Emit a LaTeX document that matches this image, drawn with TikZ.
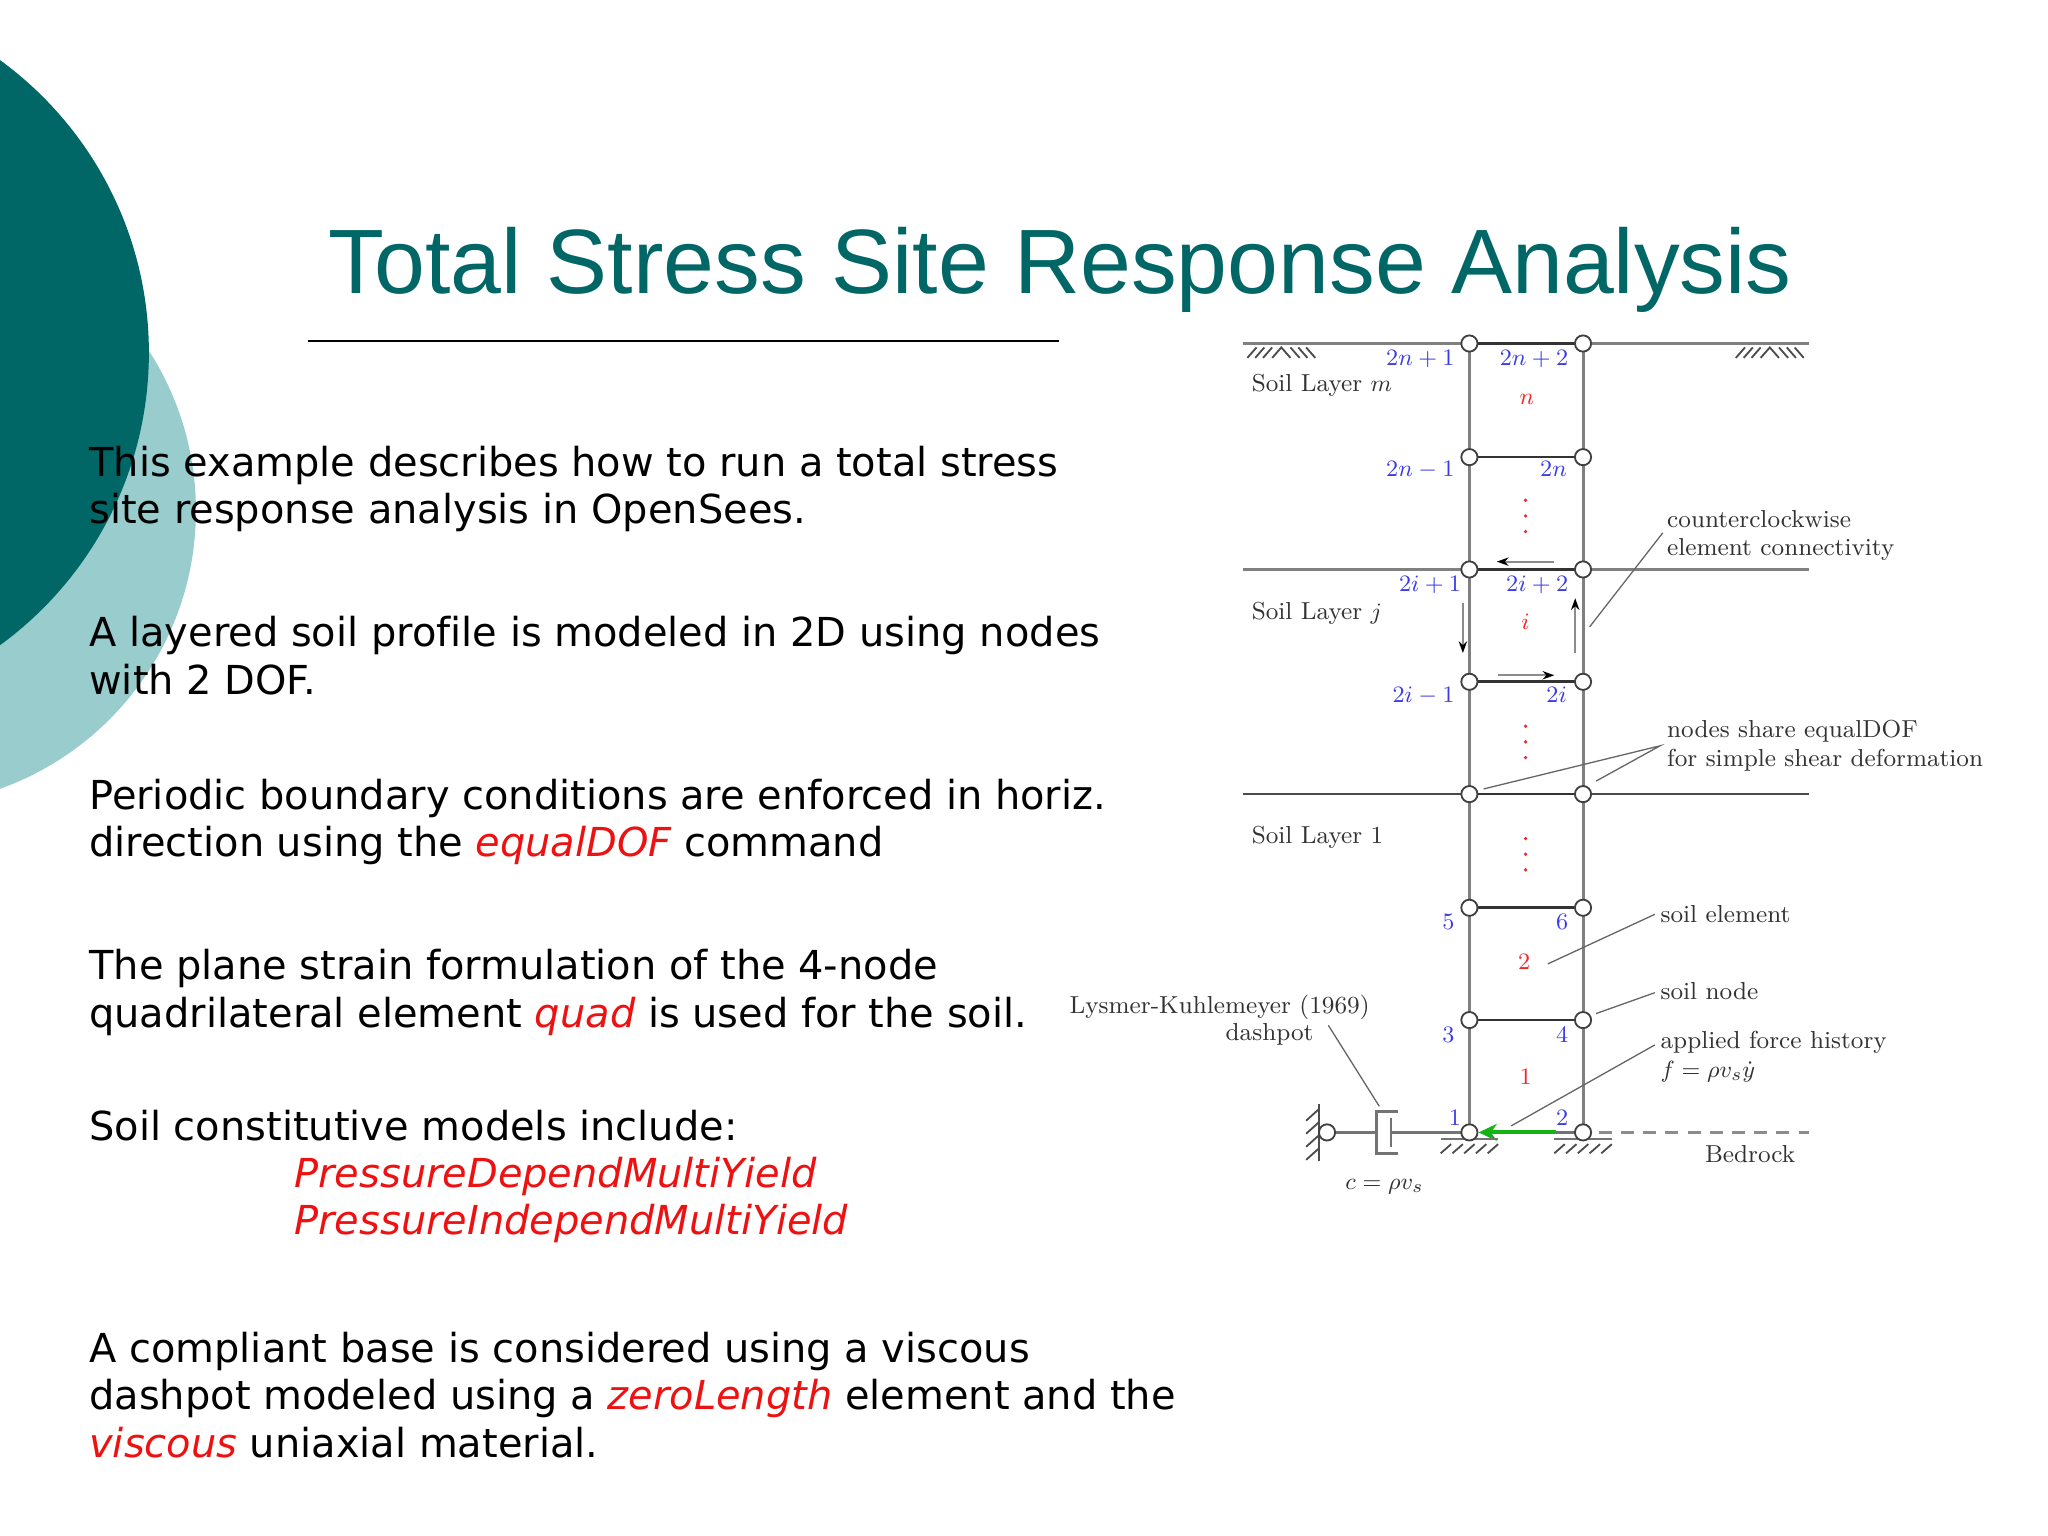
\documentclass[tikz,border=0pt]{standalone}
\usepackage{fontspec}
\usepackage{amsmath}
\setsansfont{Liberation Sans}
\newfontfamily\bodyfont[Ligatures=NoCommon]{DejaVu Sans}
\newfontfamily\titlefont{Liberation Sans}
\usetikzlibrary{arrows.meta}
\definecolor{tealdark}{HTML}{006666}
\definecolor{teallight}{HTML}{99CCCC}
\definecolor{lblue}{HTML}{3C3CE6}
\definecolor{lred}{HTML}{F02828}
\definecolor{bodyred}{HTML}{EE1111}
\tikzset{
  x=0.5pt,y=-0.5pt,
  body/.style={anchor=base west,inner sep=0,font=\bodyfont\fontsize{15.28}{18.25}\selectfont,text=black},
  dnode/.style={circle,draw=black!75,fill=white,line width=0.7pt,minimum size=6.2pt,inner sep=0},
  col/.style={draw=black!50,line width=1.15pt},
  rung/.style={draw=black!80,line width=0.8pt},
  rungb/.style={draw=black!80,line width=1.3pt},
  ground/.style={draw=black!50,line width=1pt},
  lead/.style={draw=black!60,line width=0.5pt},
  hatch/.style={draw=black!70,line width=0.7pt},
  dash part/.style={draw=black!55,line width=1pt},
  lab/.style={inner sep=0,yshift=-0.5pt,text=black!80,font=\fontsize{9.4}{11}\selectfont},
  nlab/.style={inner sep=0,yshift=-0.5pt,text=lblue,font=\fontsize{9.5}{11}\selectfont},
  elab/.style={inner sep=0,text=lred,font=\fontsize{9.4}{11}\selectfont},
  conn/.style={draw=black!45,line width=0.7pt,-{Stealth[length=4.5pt,width=3.2pt,black]}},
}
\newcommand{\emtxt}[1]{{\color{bodyred}\itshape #1}}
\begin{document}
\begin{tikzpicture}
\useasboundingbox (0,0) rectangle (1568,1176);
\fill[white] (0,0) rectangle (1568,1176);
\begin{scope}
\clip (0,0) rectangle (1568,1176);
\fill[teallight] (-76,391) circle[radius=226*0.5pt];
\fill[tealdark] (-163,270) circle[radius=277*0.5pt];
\end{scope}
\node[anchor=base west,inner sep=0,text=tealdark,font=\titlefont\fontsize{35}{40}\selectfont] (title) at (251,225) {Total Stress Site Response Analysis};
\coordinate (ruleL) at (236,261);
\coordinate (ruleR) at (811,261);
\draw[black,line width=0.7pt] (ruleL) -- (ruleR);

\node[body] (t1) at (68,365) {This example describes how to run a total stress};
\node[body] (t1b) at (68,401) {site response analysis in OpenSees.};
\node[body] (t2) at (68,495) {A layered soil profile is modeled in 2D using nodes};
\node[body] (t2b) at (68,532) {with 2 DOF.};
\node[body] (t3) at (68,620) {Periodic boundary conditions are enforced in horiz.};
\node[body] (t3b) at (68,656) {direction using the \emtxt{equalDOF} command};
\node[body] (t4) at (68,750) {The plane strain formulation of the 4-node};
\node[body] (t4b) at (68,787) {quadrilateral element \emtxt{quad} is used for the soil.};
\node[body] (t5) at (68,873) {Soil constitutive models include:};
\node[body] (t5b) at (225,909) {\emtxt{PressureDependMultiYield}};
\node[body] (t5c) at (225,945) {\emtxt{PressureIndependMultiYield}};
\node[body] (t6) at (68,1043) {A compliant base is considered using a viscous};
\node[body] (t6b) at (68,1079) {dashpot modeled using a \emtxt{zeroLength} element and the};
\node[body] (t6c) at (68,1116) {\emtxt{viscous} uniaxial material.};

% ground lines
\coordinate (g1L) at (952,263); \coordinate (g1R) at (1385,263);
\coordinate (g2L) at (952,436); \coordinate (g2R) at (1385,436);
\coordinate (g3L) at (952,608); \coordinate (g3R) at (1385,608);
\draw[ground] (g1L) -- (g1R);
\draw[ground] (g2L) -- (g2R);
\draw[draw=black!70,line width=0.6pt] (g3L) -- (g3R);
% columns
\coordinate (a0) at (1125,263); \coordinate (b0) at (1212,263);
\coordinate (a1) at (1125,350); \coordinate (b1) at (1212,350);
\coordinate (a2) at (1125,436); \coordinate (b2) at (1212,436);
\coordinate (a3) at (1125,522); \coordinate (b3) at (1212,522);
\coordinate (a4) at (1125,608); \coordinate (b4) at (1212,608);
\coordinate (a5) at (1125,695); \coordinate (b5) at (1212,695);
\coordinate (a6) at (1125,781); \coordinate (b6) at (1212,781);
\coordinate (a7) at (1125,867); \coordinate (b7) at (1212,867);
\draw[col] (a0) -- (a7);
\draw[col] (b0) -- (b7);
\draw[rungb] (a0) -- (b0);
\draw[rung] (a1) -- (b1);
\draw[rungb] (a2) -- (b2);
\draw[rungb] (a3) -- (b3);
\draw[rung] (a4) -- (b4);
\draw[rungb] (a5) -- (b5);
\draw[rung] (a6) -- (b6);
% bedrock
\coordinate (bedR) at (1385,867);
\draw[dash part,draw=black!45,dash pattern=on 5pt off 3.5pt] (1224,867) -- (bedR);
\coordinate (fixL) at (1016,867);
\draw[dash part] (a7) -- (1065,867);
\draw[dash part] (fixL) -- (1054,867);
\draw[dash part] (1065,856) -- (1065,878);
\draw[dash part] (1070,851) -- (1054,851) -- (1054,883) -- (1070,883);
% force arrow
\draw[dash part] (1191,867) -- (b7);
\draw[draw={rgb,255:red,20;green,180;blue,20},line width=1.5pt,-{Stealth[length=7pt,width=6.5pt]}] (1191,867) -- (1132,867);
% supports
\foreach \c in {1125,1212}{
  \draw[dash part] (\c-22,872) -- (\c+22,872);
  \foreach \d in {-18,-9,0,9,18}
    \draw[hatch] (\c+\d+4,876) -- (\c+\d-4,883);
}
% wall
\draw[draw=black!70,line width=0.9pt] (1010,845) -- (1010,889);
\foreach \d in {849,859,869,879}
  \draw[hatch] (1010,\d) -- (1000,\d+9);
% surface hatches
\foreach \c in {981,1355}{
  \foreach \d in {-22,-16,-10}
    \draw[hatch] (\c+\d+3,266) -- (\c+\d-4,274);
  \foreach \d in {10,16,22}
    \draw[hatch] (\c+\d-3,266) -- (\c+\d+4,274);
  \draw[hatch] (\c-7,274) -- (\c,266) -- (\c+7,274);
}
% nodes
\foreach \n in {a0,b0,a1,b1,a2,b2,a3,b3,a4,b4,a5,b5,a6,b6,a7,b7}
  \node[dnode] (n\n) at (\n) {};
\node[dnode] (nfix) at (fixL) {};
% connectivity arrows
\coordinate (ca1) at (1190,430); \coordinate (ca2) at (1146,430);
\coordinate (cb1) at (1120,462); \coordinate (cb2) at (1120,500);
\coordinate (cc1) at (1147,517); \coordinate (cc2) at (1190,517);
\coordinate (cd1) at (1206,500); \coordinate (cd2) at (1206,458);
\draw[conn] (ca1) -- (ca2);
\draw[conn] (cb1) -- (cb2);
\draw[conn] (cc1) -- (cc2);
\draw[conn] (cd1) -- (cd2);
% node labels
\node[nlab,anchor=base east] (l1) at (1114,279) {$2n+1$};
\node[nlab,anchor=base east] (l2) at (1201,279) {$2n+2$};
\node[nlab,anchor=base east] (l3) at (1114,364) {$2n-1$};
\node[nlab,anchor=base east] (l4) at (1200,364) {$2n$};
\node[nlab,anchor=base east] (l5) at (1119,452) {$2i+1$};
\node[nlab,anchor=base east] (l6) at (1201,452) {$2i+2$};
\node[nlab,anchor=base east] (l7) at (1114,537) {$2i-1$};
\node[nlab,anchor=base east] (l8) at (1200,537) {$2i$};
\node[nlab,anchor=base east] (l9) at (1114,711) {$5$};
\node[nlab,anchor=base east] (l10) at (1201,711) {$6$};
\node[nlab,anchor=base east] (l11) at (1114,797) {$3$};
\node[nlab,anchor=base east] (l12) at (1201,797) {$4$};
\node[nlab,anchor=base east] (l13) at (1119,861) {$1$};
\node[nlab,anchor=base east] (l14) at (1201,861) {$2$};
% element labels
\node[elab,anchor=base] (e1) at (1169,310) {$n$};
\node[elab,anchor=base] (e2) at (1168,482) {$i$};
\node[elab,anchor=base] (e3) at (1167,742) {$2$};
\node[elab,anchor=base] (e4) at (1168,830) {$1$};
\foreach \y in {383,395,407,556,568,580,642,654,666}
  \fill[lred] (1168,\y) circle[radius=0.7pt];
% layer labels
\node[lab,anchor=base west] (s1) at (958,299) {Soil Layer $m$};
\node[lab,anchor=base west] (s2) at (958,473) {Soil Layer $j$};
\node[lab,anchor=base west] (s3) at (958,645) {Soil Layer 1};
\node[lab,anchor=base west] (r1) at (1276,403) {counterclockwise};
\node[lab,anchor=base west] (r2) at (1276,424) {element connectivity};
\node[lab,anchor=base west] (r3) at (1276,564) {nodes share equalDOF};
\node[lab,anchor=base west] (r4) at (1276,586) {for simple shear deformation};
\node[lab,anchor=base west] (r5) at (1271,705) {soil element};
\node[lab,anchor=base west] (r6) at (1271,764) {soil node};
\node[lab,anchor=base west] (r7) at (1271,802) {applied force history};
\node[lab,anchor=base west] (r8) at (1271,824) {$f=\rho v_s\dot{y}$};
\node[lab,anchor=base east] (ly1) at (1049,775) {Lysmer-Kuhlemeyer (1969)};
\node[lab,anchor=base east] (ly2) at (1006,796) {dashpot};
\node[lab,anchor=base] (cc) at (1060,910) {$c=\rho v_s$};
\node[lab,anchor=base west] (bed) at (1305,889) {Bedrock};
% leaders
\coordinate (le1a) at (1273,408); \coordinate (le1b) at (1217,480);
\coordinate (le2a) at (1271,571); \coordinate (le2b) at (1136,604); \coordinate (le2c) at (1222,598);
\coordinate (le3a) at (1267,700); \coordinate (le3b) at (1185,738);
\coordinate (le4a) at (1267,760); \coordinate (le4b) at (1222,776);
\coordinate (le5a) at (1267,800); \coordinate (le5b) at (1157,862);
\coordinate (le6a) at (1017,785); \coordinate (le6b) at (1056,847);
\draw[lead] (le1a) -- (le1b);
\draw[lead] (le2b) -- (le2a) -- (le2c);
\draw[lead] (le3a) -- (le3b);
\draw[lead] (le4a) -- (le4b);
\draw[lead] (le5a) -- (le5b);
\draw[lead] (le6a) -- (le6b);
\end{tikzpicture}
\end{document}
